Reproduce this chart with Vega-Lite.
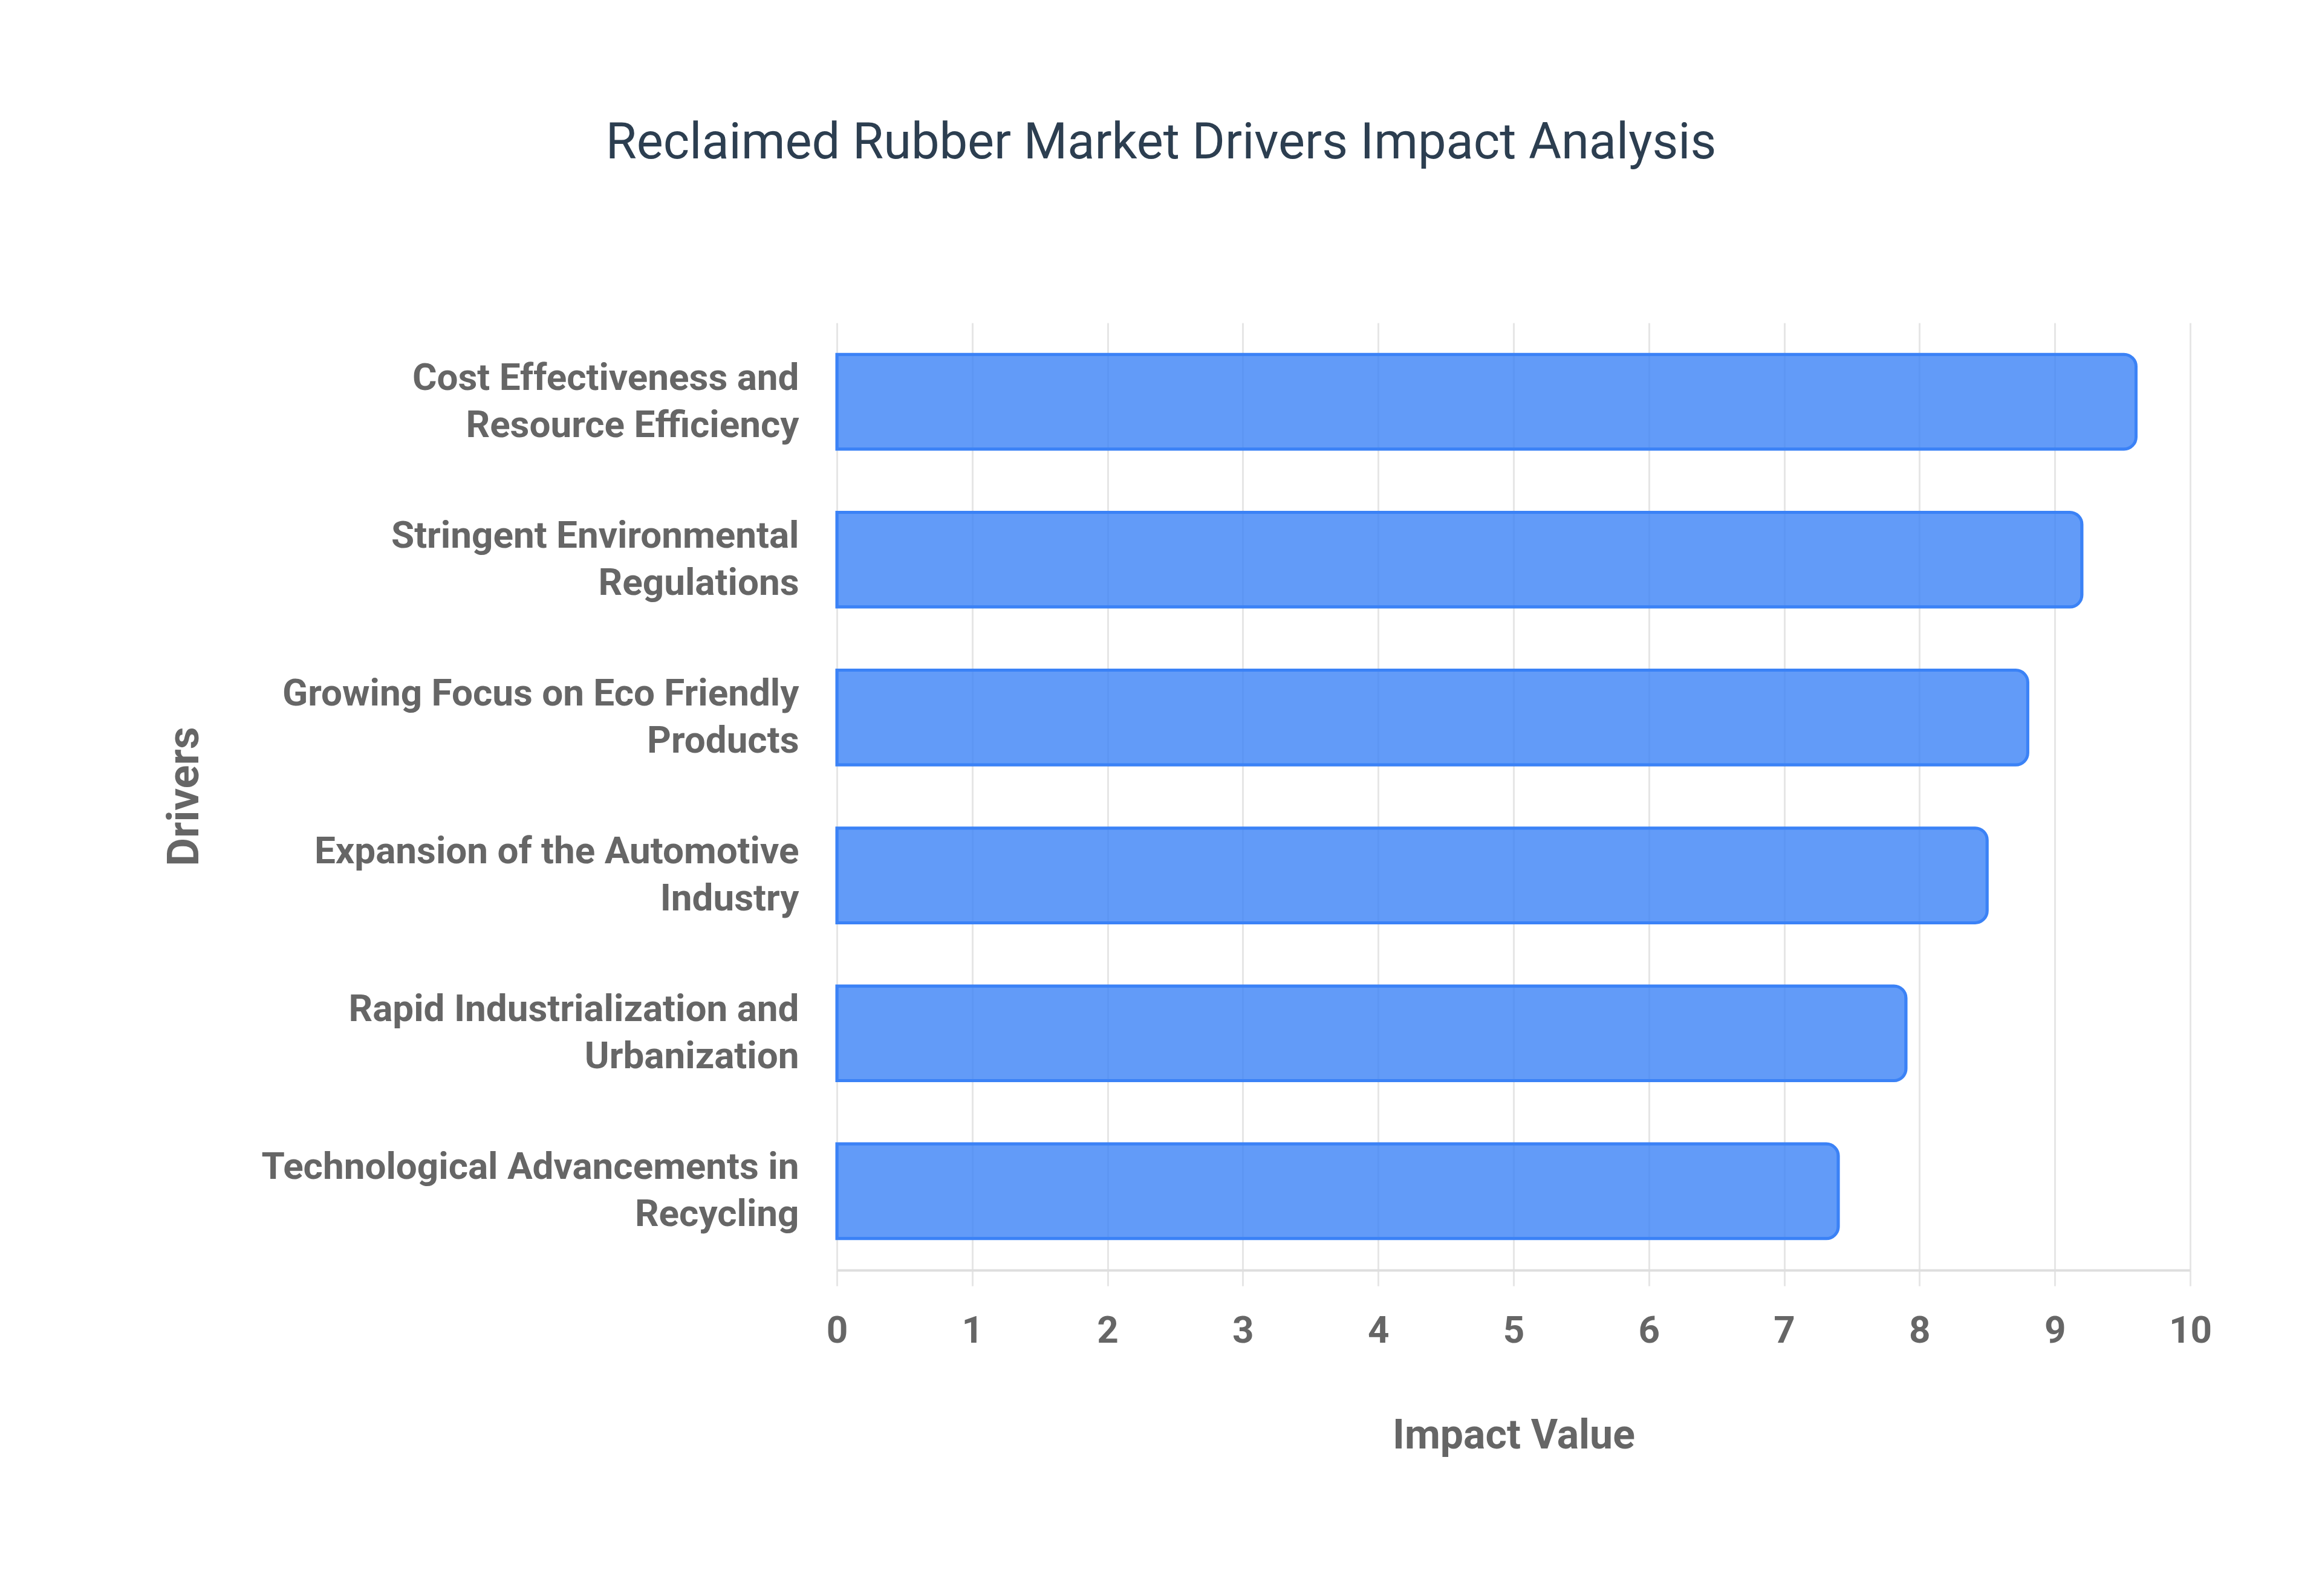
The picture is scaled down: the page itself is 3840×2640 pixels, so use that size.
{
  "$schema": "https://vega.github.io/schema/vega-lite/v6.json",
  "width": 2238,
  "height": 1567,
  "autosize": {"type": "none"},
  "padding": {"left": 1384, "top": 534, "right": 218, "bottom": 539},
  "background": "white",
  "title": {
    "text": "Reclaimed Rubber Market Drivers Impact Analysis",
    "font": "Roboto",
    "fontSize": 83,
    "fontWeight": "normal",
    "color": "#2c3e50",
    "anchor": "middle",
    "baseline": "alphabetic",
    "dx": -583,
    "offset": 189
  },
  "data": {
    "values": [
      {"Driver": "Cost Effectiveness and\nResource Efficiency", "Impact": 9.6},
      {"Driver": "Stringent Environmental\nRegulations", "Impact": 9.2},
      {"Driver": "Growing Focus on Eco Friendly\nProducts", "Impact": 8.8},
      {"Driver": "Expansion of the Automotive\nIndustry", "Impact": 8.5},
      {"Driver": "Rapid Industrialization and\nUrbanization", "Impact": 7.9},
      {"Driver": "Technological Advancements in\nRecycling", "Impact": 7.4}
    ]
  },
  "mark": {
    "type": "bar",
    "fill": "#3b82f6",
    "fillOpacity": 0.8,
    "stroke": "#3b82f6",
    "strokeWidth": 5,
    "cornerRadiusEnd": 20
  },
  "encoding": {
    "y": {
      "field": "Driver",
      "type": "nominal",
      "sort": "-x",
      "title": "Drivers",
      "scale": {"paddingInner": 0.4, "paddingOuter": 0.2},
      "axis": {
        "domain": false,
        "ticks": false,
        "grid": false,
        "labelExpr": "split(datum.label, '\\n')",
        "labelFont": "Roboto",
        "labelFontSize": 62,
        "labelFontWeight": "bold",
        "labelColor": "#666666",
        "labelLineHeight": 78,
        "labelPadding": 63,
        "labelOffset": -39,
        "labelLimit": 2000,
        "titleFont": "Roboto",
        "titleFontSize": 72,
        "titleFontWeight": "bold",
        "titleColor": "#666666",
        "titleAngle": -90,
        "titleBaseline": "alphabetic",
        "titleAlign": "center",
        "titleX": -1057,
        "titleY": 783
      }
    },
    "x": {
      "field": "Impact",
      "type": "quantitative",
      "title": "Impact Value",
      "scale": {"domain": [0, 10], "nice": false},
      "axis": {
        "values": [0, 1, 2, 3, 4, 5, 6, 7, 8, 9, 10],
        "grid": true,
        "gridColor": "#e6e6e6",
        "gridWidth": 3,
        "domainColor": "#dedede",
        "domainWidth": 4,
        "tickColor": "#e6e6e6",
        "tickWidth": 3,
        "tickSize": 26,
        "labelFont": "Roboto",
        "labelFontSize": 62,
        "labelFontWeight": "bold",
        "labelColor": "#666666",
        "labelBaseline": "alphabetic",
        "labelPadding": 93,
        "labelFlush": false,
        "titleFont": "Roboto",
        "titleFontSize": 68,
        "titleFontWeight": "bold",
        "titleColor": "#666666",
        "titleBaseline": "alphabetic",
        "titleY": 294
      }
    }
  },
  "config": {
    "view": {"stroke": null}
  }
}
